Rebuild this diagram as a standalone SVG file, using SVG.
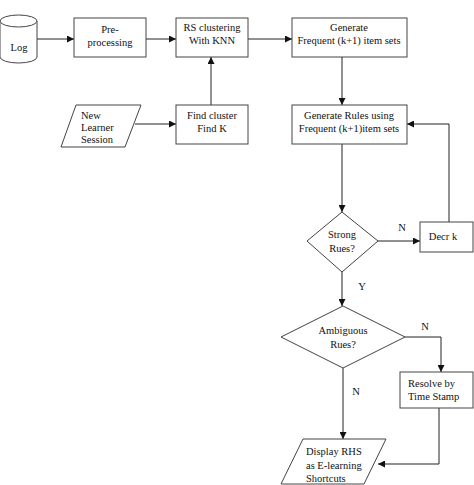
<svg xmlns="http://www.w3.org/2000/svg" width="474" height="485" viewBox="0 0 474 485">
<style>
.n{fill:#fff;stroke:#444;stroke-width:1}
.t{font-family:"Liberation Serif","Times New Roman",serif;font-size:10.5px;fill:#111;text-anchor:middle}
.l{text-anchor:start}
.c{fill:none;stroke:#222;stroke-width:1}
</style>
<defs>
<marker id="a" viewBox="0 0 10 10" refX="10" refY="5" markerWidth="7" markerHeight="7" markerUnits="userSpaceOnUse" orient="auto">
<path d="M0,0 L10,5 L0,10 z" fill="#111"/>
</marker>
</defs>
<rect width="474" height="485" fill="#fff"/>
<g id="connectors">
<path class="c" d="M37,39 H74" marker-end="url(#a)"/>
<path class="c" d="M146,39 H176" marker-end="url(#a)"/>
<path class="c" d="M248,39 H292" marker-end="url(#a)"/>
<path class="c" d="M211,105 V57" marker-end="url(#a)"/>
<path class="c" d="M135,124 H176" marker-end="url(#a)"/>
<path class="c" d="M342,57 V105" marker-end="url(#a)"/>
<path class="c" d="M342,144 V212" marker-end="url(#a)"/>
<path class="c" d="M378,241 H420" marker-end="url(#a)"/>
<path class="c" d="M449,222 V124 H407" marker-end="url(#a)"/>
<path class="c" d="M342,272 V306" marker-end="url(#a)"/>
<path class="c" d="M405,337 H441 V372" marker-end="url(#a)"/>
<path class="c" d="M343,368 V439" marker-end="url(#a)"/>
<path class="c" d="M439,408 V464 H378" marker-end="url(#a)"/>
<text class="t" x="402" y="231">N</text>
<text class="t" x="362" y="290">Y</text>
<text class="t" x="425" y="330">N</text>
<text class="t" x="356" y="395">N</text>
</g>
<g id="log">
<path class="n" d="M0,21 V57 A18.5,6 0 0 0 37,57 V21"/>
<ellipse class="n" cx="18.5" cy="21" rx="18.5" ry="6"/>
<text class="t" x="19" y="51">Log</text>
</g>
<g id="preprocessing">
<rect class="n" x="74" y="18" width="72" height="39"/>
<text class="t" x="110" y="33">Pre-</text>
<text class="t" x="110" y="46">processing</text>
</g>
<g id="rs-clustering">
<rect class="n" x="176" y="18" width="72" height="39"/>
<text class="t" x="212" y="31">RS clustering</text>
<text class="t" x="212" y="44">With KNN</text>
</g>
<g id="generate">
<rect class="n" x="292" y="18" width="115" height="39"/>
<text class="t" x="349" y="31">Generate</text>
<text class="t" x="349" y="44">Frequent (k+1) item sets</text>
</g>
<g id="new-learner">
<path class="n" d="M76,105 H141 L125,147 H61 Z"/>
<text class="t l" x="81" y="119">New</text>
<text class="t l" x="81" y="131">Learner</text>
<text class="t l" x="81" y="143">Session</text>
</g>
<g id="find-cluster">
<rect class="n" x="176" y="105" width="72" height="39"/>
<text class="t" x="212" y="119">Find cluster</text>
<text class="t" x="212" y="132">Find K</text>
</g>
<g id="generate-rules">
<rect class="n" x="292" y="105" width="115" height="39"/>
<text class="t" x="349" y="119">Generate Rules using</text>
<text class="t" x="349" y="132">Frequent (k+1)item sets</text>
</g>
<g id="strong-rules">
<path class="n" d="M342,212 L378,241 L342,272 L307,241 Z"/>
<text class="t" x="342" y="238">Strong</text>
<text class="t" x="342" y="252">Rues?</text>
</g>
<g id="decr-k">
<rect class="n" x="420" y="222" width="53" height="30"/>
<text class="t" x="443" y="240">Decr  k</text>
</g>
<g id="ambiguous">
<path class="n" d="M343,306 L405,337 L343,368 L281,337 Z"/>
<text class="t" x="343" y="334">Ambiguous</text>
<text class="t" x="343" y="348">Rues?</text>
</g>
<g id="resolve">
<rect class="n" x="400" y="372" width="73" height="36"/>
<text class="t l" x="408" y="387">Resolve by</text>
<text class="t l" x="408" y="400">Time Stamp</text>
</g>
<g id="display">
<path class="n" d="M303,439 H386 L364,484 H281 Z"/>
<text class="t l" x="306" y="455">Display RHS</text>
<text class="t l" x="306" y="469">as E-learning</text>
<text class="t l" x="306" y="482">Shortcuts</text>
</g>
</svg>
